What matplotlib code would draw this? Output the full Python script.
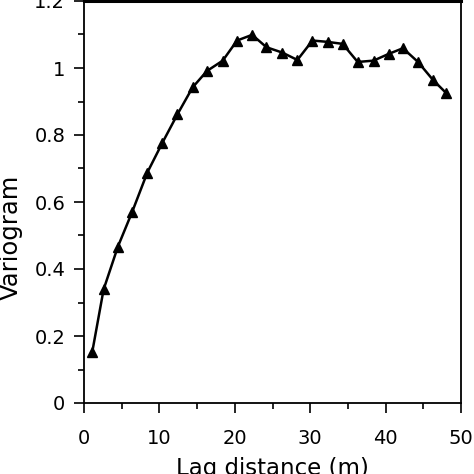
import matplotlib
matplotlib.use("Agg")
import matplotlib.pyplot as plt
from matplotlib.ticker import MultipleLocator

# Data
lag = [1.1, 2.6, 4.5, 6.4, 8.4, 10.4, 12.4, 14.4, 16.3, 18.4, 20.3, 22.3, 24.2,
       26.3, 28.3, 30.3, 32.3, 34.3, 36.3, 38.4, 40.4, 42.3, 44.3, 46.3, 48.0]
variogram = [0.153, 0.339, 0.467, 0.571, 0.688, 0.777, 0.862, 0.942, 0.991,
             1.022, 1.082, 1.099, 1.062, 1.046, 1.024, 1.082, 1.078, 1.072,
             1.018, 1.022, 1.042, 1.059, 1.018, 0.964, 0.926]
x_ticks = [0, 10, 20, 30, 40, 50]
y_ticks = [0, 0.2, 0.4, 0.6, 0.8, 1.0, 1.2]
y_tick_labels = ["0", "0.2", "0.4", "0.6", "0.8", "1", "1.2"]

plt.rcParams['font.family'] = ['DejaVu Sans']

fig = plt.figure(figsize=(4.74, 4.74), dpi=100)
ax = fig.add_axes([84/474, 1 - 403/474, 377/474, 402/474])

ax.plot(lag, variogram, color='black', linewidth=1.8, marker='^',
        markersize=7.5, markerfacecolor='black', markeredgecolor='black')

ax.set_xlim(0, 50)
ax.set_ylim(0, 1.2)
ax.set_xticks(x_ticks)
ax.set_xticklabels([str(t) for t in x_ticks])
ax.set_yticks(y_ticks)
ax.set_yticklabels(y_tick_labels)
ax.xaxis.set_minor_locator(MultipleLocator(5))
ax.yaxis.set_minor_locator(MultipleLocator(0.1))

ax.tick_params(axis='both', which='major', direction='out', length=7.5,
               width=1.2, labelsize=14, colors='black')
ax.tick_params(axis='both', which='minor', direction='out', length=4.5,
               width=1.2)
ax.tick_params(axis='x', which='major', pad=11)
ax.tick_params(axis='y', which='major', pad=6)

for s in ax.spines.values():
    s.set_linewidth(1.3)
    s.set_color('black')
ax.spines['top'].set_linewidth(2.2)

ax.set_xlabel("Lag distance (m)", fontsize=16.5)
ax.set_ylabel("Variogram", fontsize=17.5)
ax.xaxis.set_label_coords(0.5, -0.135, transform=ax.transAxes)
ax.xaxis.label.set_verticalalignment('top')
ax.yaxis.set_label_coords(18/474, 0.5, transform=fig.transFigure)
ax.yaxis.label.set_verticalalignment('baseline')

fig.savefig("out.png", dpi=100)
